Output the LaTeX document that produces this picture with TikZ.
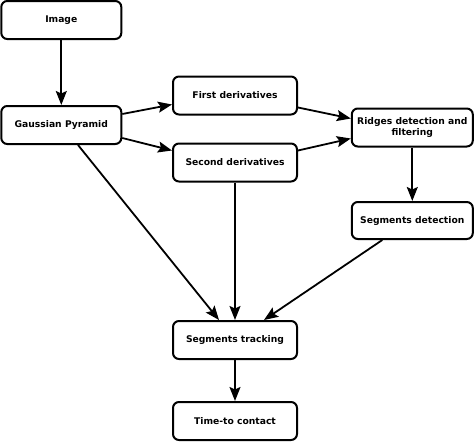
\documentclass[tikz,border=0pt]{standalone}
\usepackage{fontspec}
\setmainfont{DejaVu Sans}
\usetikzlibrary{arrows.meta,calc}
\tikzset{
  box/.style={draw=black, line width=2pt, rounded corners=6pt, rectangle,
    minimum height=38pt, inner sep=2pt, align=center,
    font=\fontsize{9.2}{11}\selectfont\bfseries},
  arr/.style={line width=1.8pt, -{Stealth[length=14pt,width=11pt,inset=2.5pt]}}
}
\begin{document}
\begin{tikzpicture}[x=1pt,y=-1pt]
\useasboundingbox (0,0) rectangle (474,442);
\node[box, minimum width=120pt] (img) at (61.3,20) {Image};
\node[box, minimum width=120pt] (gp) at (61.3,125) {Gaussian Pyramid};
\node[box, minimum width=124pt] (fd) at (235,95.5) {First derivatives};
\node[box, minimum width=124pt] (sd) at (235,162.5) {Second derivatives};
\node[box, minimum width=121pt] (rd) at (412.3,127.5) {Ridges detection and\\filtering};
\node[box, minimum width=121pt, minimum height=37pt] (sg) at (412.3,220.5) {Segments detection};
\node[box, minimum width=124pt] (tr) at (235,340) {Segments tracking};
\node[box, minimum width=124pt] (tc) at (235,421) {Time-to contact};

\draw[arr] (img) -- (gp);
\draw[arr] ($(gp.east)+(0,-11)$) -- ($(fd.west)+(0,9)$);
\draw[arr] ($(gp.east)+(0,13)$) -- ($(sd.west)+(0,-12)$);
\draw[arr] ($(fd.east)+(0,12)$) -- ($(rd.west)+(0,-9)$);
\draw[arr] ($(sd.east)+(0,-12)$) -- ($(rd.west)+(0,11)$);
\draw[arr] (rd) -- (sg);
\draw[arr] ($(gp.south)+(16.7,0)$) -- ($(tr.north)+(-16,0)$);
\draw[arr] (sd) -- (tr);
\draw[arr] ($(sg.south)+(-30,0)$) -- ($(tr.north)+(29,0)$);
\draw[arr] (tr) -- (tc);
\end{tikzpicture}
\end{document}
